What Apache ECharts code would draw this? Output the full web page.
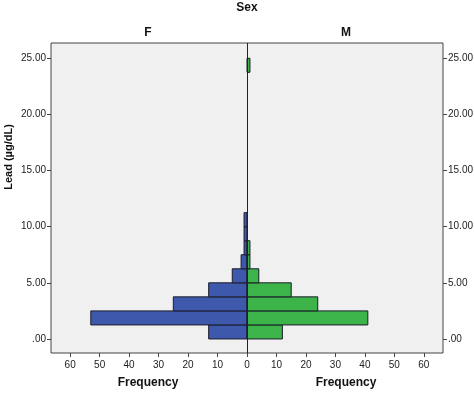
<!DOCTYPE html>
<html>
<head>
<meta charset="utf-8">
<script src="https://cdn.jsdelivr.net/npm/echarts@6/dist/echarts.min.js"></script>
<style>html,body{margin:0;padding:0;background:#fff;}#c{width:474px;height:395px;}</style>
</head>
<body>
<div id="c"></div>
<script>
// Bin lower edges (µg/dL), bin width 1.25
var binLow  = [0, 1.25, 2.5, 3.75, 5, 6.25, 7.5, 8.75, 10, 23.75];
var binHigh = [1.25, 2.5, 3.75, 5, 6.25, 7.5, 8.75, 10, 11.25, 25];
var femaleCounts = [13, 53, 25, 13, 5, 2, 1, 1, 1, 0];
var maleCounts   = [12, 41, 24, 15, 4, 1, 1, 0, 0, 1];
var yTicks = [0, 5, 10, 15, 20, 25];
var xTicks = [-60, -50, -40, -30, -20, -10, 0, 10, 20, 30, 40, 50, 60];
var groupLabels = ['F', 'M'];

var FONT = '"Liberation Sans", Arial, sans-serif';

function buildData(counts, sign) {
  var out = [];
  for (var i = 0; i < counts.length; i++) {
    if (counts[i] > 0) out.push([binLow[i], binHigh[i], sign * counts[i]]);
  }
  return out;
}

function makeRender(color) {
  return function (params, api) {
    var lo = api.value(0), hi = api.value(1), v = api.value(2);
    var a = api.coord([0, lo]);
    var b = api.coord([v, hi]);
    var x = Math.min(a[0], b[0]);
    return {
      type: 'rect',
      shape: { x: x, y: b[1], width: Math.abs(b[0] - a[0]), height: a[1] - b[1] },
      style: { fill: color, stroke: '#1b1b2a', lineWidth: 1 }
    };
  };
}

var yLabelFmt = function (v) { return v === 0 ? '.00' : v.toFixed(2); };
var yCommon = {
  type: 'value', min: -1.25, max: 26.36,
  splitLine: { show: false },
  axisLine: { show: false, onZero: false },
  axisTick: { show: true, length: 4, lineStyle: { color: '#444' }, customValues: yTicks },
  axisLabel: { color: '#222', fontSize: 10, fontFamily: FONT, margin: 5, formatter: yLabelFmt, customValues: yTicks }
};

var chart = echarts.init(document.getElementById('c'), null, { renderer: 'canvas' });
chart.setOption({
  animation: false,
  backgroundColor: '#ffffff',
  grid: { left: 51, right: 31, top: 43, bottom: 42, outerBoundsMode: 'none', containLabel: false,
    show: true, backgroundColor: '#f0f0f0', borderColor: '#444', borderWidth: 1 },
  xAxis: {
    type: 'value', min: -66.5, max: 66.5,
    splitLine: { show: false },
    axisLine: { show: false, onZero: false },
    axisTick: { show: true, length: 4, lineStyle: { color: '#444' }, customValues: xTicks },
    axisLabel: { color: '#222', fontSize: 10, fontFamily: FONT, margin: 7, customValues: xTicks,
      formatter: function (v) { return String(Math.abs(v)); } }
  },
  yAxis: [
    Object.assign({}, yCommon, { position: 'left' }),
    Object.assign({}, yCommon, { position: 'right' })
  ],
  series: [
    {
      name: 'F', type: 'custom', renderItem: makeRender('#3e58ab'),
      data: buildData(femaleCounts, -1), encode: { x: 2, y: [0, 1] },
      markLine: { silent: true, symbol: 'none', label: { show: false },
        lineStyle: { color: '#222', width: 1, type: 'solid' }, data: [{ xAxis: 0 }] },
      z: 2
    },
    {
      name: 'M', type: 'custom', renderItem: makeRender('#3cb44a'),
      data: buildData(maleCounts, 1), encode: { x: 2, y: [0, 1] },
      z: 2
    }
  ],
  graphic: [
    { type: 'text', x: 247, y: 8, style: { text: 'Sex', font: 'bold 12px ' + FONT, fill: '#111', align: 'center', verticalAlign: 'middle' } },
    { type: 'text', x: 148, y: 33, style: { text: groupLabels[0], font: 'bold 12px ' + FONT, fill: '#111', align: 'center', verticalAlign: 'middle' } },
    { type: 'text', x: 346, y: 33, style: { text: groupLabels[1], font: 'bold 12px ' + FONT, fill: '#111', align: 'center', verticalAlign: 'middle' } },
    { type: 'text', x: 148, y: 383, style: { text: 'Frequency', font: 'bold 12px ' + FONT, fill: '#111', align: 'center', verticalAlign: 'middle' } },
    { type: 'text', x: 346, y: 383, style: { text: 'Frequency', font: 'bold 12px ' + FONT, fill: '#111', align: 'center', verticalAlign: 'middle' } },
    { type: 'text', x: 9, y: 157, rotation: Math.PI / 2, style: { text: 'Lead (µg/dL)', font: 'bold 11px ' + FONT, fill: '#111', align: 'center', verticalAlign: 'middle' } }
  ]
});
</script>
</body>
</html>
